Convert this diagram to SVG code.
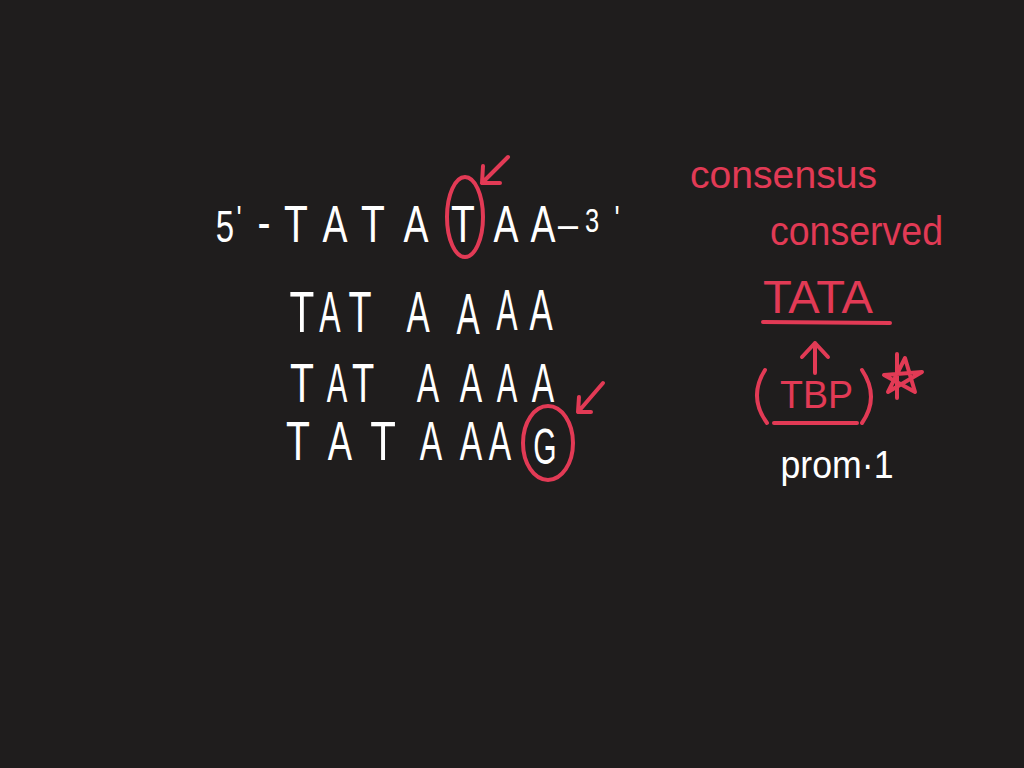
<svg xmlns="http://www.w3.org/2000/svg" width="1024" height="768" viewBox="0 0 1024 768">
<style>
.w{fill:#ffffff;font-family:"Liberation Sans",Arial,sans-serif;text-anchor:middle}
.r{fill:#e23a55;font-family:"Liberation Sans",Arial,sans-serif}
.rs{fill:none;stroke:#e23a55;stroke-width:4;stroke-linecap:round;stroke-linejoin:round}
</style>
<rect width="1024" height="768" fill="#1f1d1d"/>
<g id="seq-top" class="w" font-size="52">
<text transform="translate(225,242) scale(0.75,1)" font-size="44">5</text>
<text transform="translate(239,232) scale(0.75,1)" font-size="36">'</text>
<text transform="translate(264,240) scale(0.75,1)">-</text>
<text transform="translate(296,242) scale(0.75,1)">T</text>
<text transform="translate(335,242) scale(0.72,1)">A</text>
<text transform="translate(373,242) scale(0.75,1)">T</text>
<text transform="translate(416,242) scale(0.72,1)">A</text>
<text transform="translate(463,242) scale(0.75,1)">T</text>
<text transform="translate(506,242) scale(0.72,1)">A</text>
<text transform="translate(543,242) scale(0.72,1)">A</text>
<text transform="translate(568,238) scale(0.9,1)" font-size="40">–</text>
<text transform="translate(592,232) scale(0.75,1)" font-size="34">3</text>
<text transform="translate(617,232) scale(0.75,1)" font-size="36">'</text>
</g>
<g id="seq-row1" class="w" font-size="58">
<text transform="translate(302,332) scale(0.7,1)">T</text>
<text transform="translate(330,332) scale(0.55,1)">A</text>
<text transform="translate(360,332) scale(0.65,1)">T</text>
<text transform="translate(418,332) scale(0.6,1)">A</text>
<text transform="translate(468,334) scale(0.6,1)">A</text>
<text transform="translate(507,330) scale(0.55,1)">A</text>
<text transform="translate(541,330) scale(0.6,1)">A</text>
</g>
<g id="seq-row2" class="w" font-size="56">
<text transform="translate(302,402) scale(0.7,1)">T</text>
<text transform="translate(337,402) scale(0.55,1)">A</text>
<text transform="translate(363,402) scale(0.65,1)">T</text>
<text transform="translate(428,402) scale(0.6,1)">A</text>
<text transform="translate(471,402) scale(0.6,1)">A</text>
<text transform="translate(507,402) scale(0.55,1)">A</text>
<text transform="translate(543,402) scale(0.6,1)">A</text>
</g>
<g id="seq-row3" class="w" font-size="56">
<text transform="translate(298,460) scale(0.7,1)">T</text>
<text transform="translate(340,460) scale(0.65,1)">A</text>
<text transform="translate(383,460) scale(0.75,1)">T</text>
<text transform="translate(431,460) scale(0.6,1)">A</text>
<text transform="translate(471,460) scale(0.6,1)">A</text>
<text transform="translate(500,460) scale(0.6,1)">A</text>
<text transform="translate(545,464) scale(0.6,1)" font-size="50">G</text>
</g>
<g id="highlights">
<ellipse class="rs" cx="465" cy="217" rx="18" ry="40"/>
<path class="rs" d="M508 157 L482 183 M483 166 L482 183 L500 183"/>
<ellipse class="rs" cx="548" cy="443" rx="25" ry="37"/>
<path class="rs" d="M603 383 L578 412 M579 397 L578 412 L591 412"/>
</g>
<g id="notes">
<text class="r" x="690" y="188" font-size="38" textLength="187" lengthAdjust="spacingAndGlyphs">consensus</text>
<text class="r" x="770" y="245" font-size="40" textLength="173" lengthAdjust="spacingAndGlyphs">conserved</text>
<text class="r" x="763" y="313" font-size="46" textLength="110" lengthAdjust="spacingAndGlyphs">TATA</text>
<path class="rs" d="M763 322 L890 323"/>
<path class="rs" d="M815 373 L815 343 M802 357 L815 343 L828 357"/>
<path class="rs" d="M765 370 Q748 397 767 423 M862 370 Q880 397 862 423"/>
<text class="r" x="780" y="408" font-size="38" textLength="73" lengthAdjust="spacingAndGlyphs">TBP</text>
<path class="rs" d="M774 423 L857 423"/>
<path class="rs" d="M897 354 L897 398 M884 375 L922 372 L888 392 L905 358 L915 392 Z"/>
<text class="w" x="837" y="478" font-size="38" textLength="113" lengthAdjust="spacingAndGlyphs">prom·1</text>
</g>
</svg>
